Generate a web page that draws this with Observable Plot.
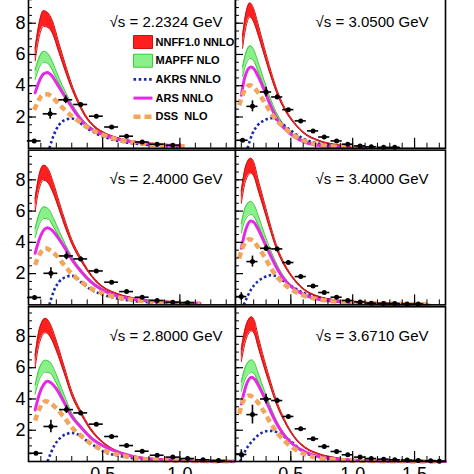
<!DOCTYPE html>
<html>
<head>
<meta charset="utf-8">
<script src="https://cdn.jsdelivr.net/npm/d3@7"></script>
<script src="https://cdn.jsdelivr.net/npm/@observablehq/plot@0.6"></script>
<style>
  body { margin: 0; background: #fff; }
  #wrap { position: relative; width: 474px; height: 474px; overflow: hidden; background: #fff; }
  #left { position: absolute; left: 0; top: -7px; }
  #right { position: absolute; left: 234px; top: -7px; }
  svg text { white-space: pre; }
</style>
</head>
<body>
<div id="wrap"><div id="left"></div><div id="right"></div></div>
<script>
// ---------------- data ----------------
const energies = ["2.2324", "2.4000", "2.8000", "3.0500", "3.4000", "3.6710"];
const legendLabels = ["NNFF1.0 NNLO", "MAPFF NLO", "AKRS NNLO", "ARS NNLO", "DSS  NLO"];
const yTickLabels = [2, 4, 6, 8];
const xTickLabelsLeft = [0.5, 1.0];
const xTickLabelsRight = [0.5, 1.0, 1.5];
const xHalfBin = 0.045;

// NNFF1.0 / MAPFF bands: [x, central, half-width]; lines: [x, y]; data: [x, y, yerr]
const nnff_2232 = [[0.063,6.0,0.40],[0.09,7.6,0.45],[0.117,8.3,0.50],[0.145,8.2,0.47],[0.175,7.75,0.40],[0.215,6.5,0.30],[0.26,5.1,0.22],[0.30,3.95,0.15],[0.345,2.9,0.10],[0.39,2.05,0.07],[0.45,1.35,0.05],[0.52,0.92,0.04],[0.60,0.64,0.03],[0.70,0.44,0.02],[0.80,0.32,0.02],[0.90,0.23,0.02],[1.02,0.16,0.02]];
const mapff_2232 = [[0.063,4.7,0.30],[0.09,5.5,0.33],[0.117,5.85,0.35],[0.145,5.75,0.32],[0.17,5.35,0.28],[0.20,4.7,0.22],[0.24,3.85,0.15],[0.28,3.1,0.10],[0.33,2.3,0.08],[0.38,1.68,0.05],[0.45,1.14,0.03],[0.52,0.82,0.02],[0.60,0.58,0.02],[0.70,0.41,0.02],[0.80,0.30,0.02],[0.90,0.22,0.02],[1.02,0.15,0.02]];
const akrs_2232 = [[0.155,0],[0.186,0.9],[0.218,1.5],[0.26,1.82],[0.30,1.9],[0.33,1.8],[0.37,1.5],[0.42,1.15],[0.50,0.75],[0.60,0.47],[0.75,0.25],[0.90,0.15],[1.02,0.10]];
const ars_2232 = [[0.063,3.55],[0.09,4.3],[0.117,4.75],[0.143,4.85],[0.17,4.65],[0.20,4.2],[0.24,3.55],[0.28,2.95],[0.33,2.2],[0.38,1.6],[0.45,1.1],[0.52,0.8],[0.60,0.57],[0.70,0.40],[0.80,0.29],[0.90,0.21],[1.02,0.15]];
const dss_2232 = [[0.057,2.45],[0.08,2.95],[0.10,3.3],[0.125,3.45],[0.145,3.45],[0.17,3.3],[0.20,3.0],[0.24,2.6],[0.30,2.05],[0.35,1.7],[0.40,1.35],[0.50,0.86],[0.60,0.55],[0.75,0.30],[0.90,0.19],[1.03,0.12]];
const data_2232 = [[0.057,0.47,0.08],[0.16,2.2,0.35],[0.261,3.1,0.25],[0.358,2.8,0.12],[0.459,2.05,0.08],[0.558,1.36,0.06],[0.655,0.77,0.05],[0.756,0.40,0.04],[0.853,0.26,0.04],[0.954,0.19,0.04]];

const nnff_2400 = [[0.063,6.4,0.40],[0.09,7.9,0.45],[0.12,8.45,0.48],[0.15,8.2,0.45],[0.18,7.5,0.35],[0.22,6.3,0.25],[0.26,5.1,0.20],[0.30,4.05,0.14],[0.36,2.9,0.10],[0.40,2.25,0.07],[0.45,1.6,0.05],[0.50,1.15,0.04],[0.60,0.68,0.03],[0.70,0.43,0.02],[0.80,0.30,0.02],[0.90,0.22,0.02],[1.00,0.17,0.02],[1.13,0.12,0.02]];
const mapff_2400 = [[0.063,4.6,0.30],[0.09,5.5,0.35],[0.12,5.9,0.37],[0.15,5.8,0.33],[0.18,5.3,0.28],[0.22,4.5,0.20],[0.26,3.7,0.15],[0.30,3.0,0.10],[0.36,2.2,0.07],[0.42,1.55,0.05],[0.49,1.05,0.03],[0.57,0.66,0.02],[0.70,0.37,0.02],[0.81,0.26,0.02],[0.90,0.20,0.02],[1.00,0.16,0.02],[1.13,0.12,0.02]];
const akrs_2400 = [[0.155,0],[0.187,0.96],[0.219,1.49],[0.261,1.78],[0.293,1.86],[0.326,1.78],[0.36,1.45],[0.42,1.0],[0.50,0.66],[0.60,0.4],[0.70,0.25],[0.80,0.17],[0.90,0.12],[1.00,0.08],[1.10,0.05]];
const ars_2400 = [[0.063,3.3],[0.09,4.2],[0.12,4.8],[0.143,4.94],[0.17,4.8],[0.20,4.45],[0.25,3.73],[0.30,2.9],[0.36,2.13],[0.42,1.5],[0.49,1.0],[0.57,0.64],[0.70,0.36],[0.81,0.25],[0.90,0.19],[1.00,0.15],[1.13,0.11]];
const dss_2400 = [[0.063,2.56],[0.09,3.2],[0.13,3.62],[0.16,3.5],[0.197,3.19],[0.25,2.56],[0.30,1.98],[0.358,1.5],[0.42,1.08],[0.51,0.7],[0.62,0.42],[0.75,0.26],[0.92,0.15],[1.13,0.07]];
const data_2400 = [[0.059,0.47,0.08],[0.165,2.02,0.35],[0.266,3.13,0.25],[0.358,2.94,0.12],[0.459,2.17,0.08],[0.558,1.45,0.06],[0.655,0.85,0.05],[0.756,0.49,0.04],[0.853,0.28,0.04],[0.954,0.17,0.04],[1.05,0.13,0.04]];

const nnff_2800 = [[0.063,6.4,0.40],[0.09,8.0,0.45],[0.13,8.7,0.46],[0.16,8.4,0.42],[0.197,7.5,0.33],[0.25,5.9,0.22],[0.30,4.35,0.15],[0.358,3.15,0.10],[0.42,2.1,0.07],[0.51,1.15,0.04],[0.62,0.55,0.03],[0.75,0.25,0.02],[0.92,0.12,0.02],[1.13,0.05,0.01],[1.35,0.02,0.01]];
const mapff_2800 = [[0.063,4.6,0.30],[0.09,5.6,0.36],[0.13,6.1,0.38],[0.16,6.0,0.35],[0.197,5.35,0.28],[0.25,4.1,0.18],[0.30,3.0,0.10],[0.358,2.25,0.07],[0.42,1.58,0.05],[0.51,0.98,0.03],[0.62,0.55,0.02],[0.75,0.24,0.02],[0.92,0.11,0.01],[1.13,0.05,0.01],[1.35,0.02,0.01]];
const akrs_2800 = [[0.143,0],[0.187,1.02],[0.23,1.55],[0.272,1.78],[0.30,1.83],[0.347,1.7],[0.40,1.3],[0.45,0.98],[0.51,0.62],[0.62,0.33],[0.75,0.15],[0.92,0.06],[1.13,0.02],[1.35,0.0]];
const ars_2800 = [[0.063,3.3],[0.09,4.3],[0.12,4.95],[0.143,5.13],[0.17,5.0],[0.197,4.7],[0.25,3.79],[0.30,2.88],[0.358,2.2],[0.42,1.55],[0.51,0.96],[0.62,0.53],[0.75,0.23],[0.92,0.11],[1.13,0.05],[1.35,0.02]];
const dss_2800 = [[0.063,2.62],[0.09,3.35],[0.13,3.86],[0.16,3.75],[0.197,3.43],[0.25,2.83],[0.30,2.19],[0.358,1.66],[0.42,1.17],[0.51,0.70],[0.62,0.38],[0.75,0.17],[0.92,0.07],[1.13,0.03],[1.35,0.01]];
const data_2800 = [[0.068,0.53,0.08],[0.165,2.24,0.40],[0.266,3.32,0.25],[0.358,3.11,0.12],[0.459,2.39,0.08],[0.558,1.6,0.05],[0.655,1.02,0.05],[0.756,0.66,0.04],[0.853,0.40,0.03],[0.954,0.28,0.03],[1.05,0.19,0.03],[1.15,0.11,0.03],[1.25,0.06,0.03]];

const nnff_3050 = [[0.11,6.8,0.40],[0.14,8.3,0.45],[0.17,8.85,0.45],[0.20,8.5,0.42],[0.232,7.7,0.35],[0.286,6.2,0.25],[0.34,4.75,0.18],[0.394,3.5,0.12],[0.449,2.55,0.08],[0.53,1.6,0.05],[0.61,0.95,0.04],[0.72,0.5,0.03],[0.88,0.2,0.02],[1.10,0.05,0.01]];
const mapff_3050 = [[0.11,4.9,0.30],[0.14,5.8,0.38],[0.17,6.15,0.40],[0.20,5.95,0.36],[0.232,5.3,0.30],[0.286,4.1,0.20],[0.34,2.95,0.12],[0.394,2.05,0.08],[0.449,1.4,0.05],[0.53,0.8,0.03],[0.61,0.45,0.02],[0.72,0.22,0.02],[0.88,0.10,0.01],[1.10,0.02,0.01]];
const akrs_3050 = [[0.15,0],[0.19,0.94],[0.232,1.47],[0.286,1.79],[0.34,1.93],[0.394,1.8],[0.449,1.45],[0.49,1.2],[0.55,0.85],[0.61,0.58],[0.72,0.3],[0.88,0.12],[1.10,0.03]];
const ars_3050 = [[0.10,3.39],[0.13,4.6],[0.177,5.2],[0.20,5.1],[0.232,4.66],[0.286,3.7],[0.34,2.64],[0.394,1.79],[0.449,1.26],[0.53,0.72],[0.61,0.40],[0.72,0.19],[0.88,0.09],[1.10,0.02]];
const dss_3050 = [[0.083,2.75],[0.12,3.6],[0.167,4.03],[0.20,3.9],[0.232,3.6],[0.286,2.96],[0.34,2.25],[0.394,1.72],[0.449,1.3],[0.53,0.8],[0.61,0.47],[0.72,0.22],[0.88,0.09],[1.05,0.02]];
const data_3050 = [[0.11,0.51,0.08],[0.19,2.68,0.35],[0.30,3.6,0.30],[0.39,3.28,0.15],[0.48,2.47,0.08],[0.58,1.75,0.06],[0.68,1.11,0.05],[0.77,0.72,0.04],[0.87,0.47,0.04],[0.96,0.26,0.03],[1.06,0.15,0.03],[1.15,0.09,0.03],[1.25,0.06,0.03],[1.34,0.06,0.03]];

const nnff_3400 = [[0.10,6.9,0.40],[0.135,8.4,0.46],[0.177,8.9,0.48],[0.205,8.6,0.44],[0.232,7.8,0.36],[0.286,6.3,0.26],[0.34,4.8,0.18],[0.394,3.5,0.12],[0.449,2.56,0.08],[0.53,1.6,0.05],[0.61,0.96,0.04],[0.72,0.53,0.03],[0.88,0.28,0.02],[1.10,0.15,0.02],[1.42,0.06,0.01],[1.63,0.02,0.01]];
const mapff_3400 = [[0.10,4.9,0.30],[0.135,5.9,0.40],[0.177,6.2,0.42],[0.205,6.0,0.38],[0.232,5.5,0.32],[0.286,4.35,0.22],[0.34,3.3,0.14],[0.394,2.4,0.09],[0.449,1.7,0.06],[0.53,1.05,0.04],[0.61,0.67,0.03],[0.72,0.38,0.02],[0.88,0.22,0.02],[1.10,0.12,0.01],[1.42,0.05,0.01],[1.63,0.02,0.01]];
const akrs_3400 = [[0.12,0],[0.177,0.96],[0.232,1.49],[0.286,1.77],[0.34,1.9],[0.394,1.8],[0.449,1.5],[0.503,1.2],[0.60,0.78],[0.70,0.5],[0.80,0.32],[0.90,0.21],[1.00,0.14],[1.20,0.07],[1.40,0.03],[1.60,0.01]];
const ars_3400 = [[0.10,3.62],[0.135,4.8],[0.177,5.37],[0.205,5.25],[0.232,4.9],[0.286,4.0],[0.34,3.09],[0.394,2.24],[0.449,1.6],[0.53,1.0],[0.61,0.64],[0.72,0.36],[0.88,0.21],[1.10,0.11],[1.42,0.04],[1.60,0.02]];
const dss_3400 = [[0.083,2.98],[0.12,3.85],[0.167,4.2],[0.20,4.05],[0.232,3.73],[0.286,3.09],[0.34,2.34],[0.394,1.75],[0.449,1.32],[0.53,0.87],[0.61,0.58],[0.72,0.36],[0.88,0.21],[1.10,0.13],[1.42,0.06],[1.61,0.04]];
const data_3400 = [[0.10,0.53,0.25],[0.19,2.77,0.35],[0.30,3.62,0.20],[0.39,3.58,0.12],[0.48,2.71,0.08],[0.58,1.81,0.06],[0.68,1.21,0.05],[0.77,0.79,0.04],[0.87,0.49,0.04],[0.96,0.28,0.03],[1.06,0.19,0.03],[1.15,0.11,0.03],[1.25,0.09,0.03],[1.34,0.09,0.03],[1.44,0.06,0.03],[1.53,0.06,0.10]];

const nnff_3671 = [[0.10,6.8,0.40],[0.14,8.3,0.45],[0.183,8.8,0.45],[0.21,8.5,0.42],[0.232,7.8,0.36],[0.286,6.25,0.26],[0.34,4.85,0.18],[0.394,3.58,0.12],[0.449,2.62,0.08],[0.53,1.55,0.05],[0.61,0.92,0.04],[0.72,0.49,0.03],[0.88,0.21,0.02],[1.10,0.07,0.01],[1.42,0.02,0.01],[1.75,0.0,0.0]];
const mapff_3671 = [[0.10,4.8,0.30],[0.14,5.8,0.38],[0.183,6.1,0.40],[0.21,5.9,0.36],[0.232,5.45,0.30],[0.286,4.35,0.20],[0.34,3.3,0.13],[0.394,2.4,0.08],[0.449,1.72,0.05],[0.53,1.05,0.03],[0.61,0.65,0.02],[0.72,0.33,0.02],[0.88,0.15,0.01],[1.10,0.06,0.01],[1.42,0.02,0.01],[1.75,0.0,0.0]];
const akrs_3671 = [[0.09,0],[0.15,0.92],[0.205,1.45],[0.26,1.81],[0.33,1.96],[0.394,1.85],[0.449,1.58],[0.50,1.3],[0.60,0.62],[0.70,0.35],[0.80,0.2],[0.90,0.12],[1.00,0.07],[1.20,0.03],[1.40,0.01],[1.60,0]];
const ars_3671 = [[0.10,3.68],[0.14,4.9],[0.183,5.39],[0.21,5.25],[0.232,4.96],[0.286,4.11],[0.34,3.15],[0.394,2.3],[0.449,1.66],[0.53,1.02],[0.61,0.64],[0.72,0.32],[0.88,0.15],[1.10,0.06],[1.42,0.02],[1.75,0]];
const dss_3671 = [[0.083,3.05],[0.12,3.95],[0.167,4.22],[0.20,4.05],[0.232,3.79],[0.286,3.15],[0.34,2.41],[0.394,1.8],[0.449,1.32],[0.53,0.8],[0.61,0.47],[0.72,0.23],[0.88,0.11],[1.10,0.04],[1.42,0.01],[1.71,0]];
const data_3671 = [[0.10,0.45,0.30],[0.19,3.0,0.60],[0.30,4.0,0.30],[0.39,3.9,0.15],[0.48,2.88,0.10],[0.58,2.09,0.07],[0.68,1.45,0.06],[0.77,0.96,0.05],[0.87,0.64,0.04],[0.96,0.43,0.04],[1.06,0.28,0.03],[1.15,0.19,0.03],[1.25,0.15,0.03],[1.34,0.11,0.03],[1.44,0.09,0.03],[1.53,0.06,0.10],[1.63,0.04,0.03],[1.70,0.02,0.03]];

// ---------------- assembly ----------------
const leftPanels = [
  {row: 0, e: energies[0], nnff: nnff_2232, mapff: mapff_2232, akrs: akrs_2232, ars: ars_2232, dss: dss_2232, data: data_2232},
  {row: 1, e: energies[1], nnff: nnff_2400, mapff: mapff_2400, akrs: akrs_2400, ars: ars_2400, dss: dss_2400, data: data_2400},
  {row: 2, e: energies[2], nnff: nnff_2800, mapff: mapff_2800, akrs: akrs_2800, ars: ars_2800, dss: dss_2800, data: data_2800}
];
const rightPanels = [
  {row: 0, e: energies[3], nnff: nnff_3050, mapff: mapff_3050, akrs: akrs_3050, ars: ars_3050, dss: dss_3050, data: data_3050},
  {row: 1, e: energies[4], nnff: nnff_3400, mapff: mapff_3400, akrs: akrs_3400, ars: ars_3400, dss: dss_3400, data: data_3400},
  {row: 2, e: energies[5], nnff: nnff_3671, mapff: mapff_3671, akrs: akrs_3671, ars: ars_3671, dss: dss_3671, data: data_3671}
];

const C = {
  red: "#ff1f1f", redEdge: "#c81414",
  green: "#8af08a", greenEdge: "#3cc83c",
  blue: "#1c2aa8", magenta: "#e52ae5", orange: "#f2a55c"
};

const bandRows = (ps, k) => ps.flatMap(p => p[k].map(([x, c, w]) => ({row: p.row, x, lo: c - w, hi: c + w})));
const lineRows = (ps, k) => ps.flatMap(p => p[k].map(([x, y]) => ({row: p.row, x, y})));
const pointRows = ps => ps.flatMap(p => p.data.map(([x, y, ey]) => ({row: p.row, x, y, ey})));

const rectSym = {draw(ctx) { ctx.moveTo(-9.5, -6.5); ctx.lineTo(9.5, -6.5); ctx.lineTo(9.5, 6.5); ctx.lineTo(-9.5, 6.5); ctx.closePath(); }};
const lineSym = {draw(ctx) { ctx.moveTo(-9.5, 0); ctx.lineTo(9.5, 0); }};

function column(ps, cfg) {
  const FH = 468, pad = 0.012;
  const bw = FH / (3 - pad) * (1 - pad);
  const frameW = cfg.width - cfg.marginLeft - cfg.marginRight;
  const red = bandRows(ps, "nnff"), green = bandRows(ps, "mapff");
  const pts = pointRows(ps);
  const curve = "monotone-x";
  const xMinor = d3.range(1, cfg.xMax * 10 + 0.5).map(i => i / 10);
  const yMinor = d3.range(1, 20).map(i => i / 2);
  const marks = [
    Plot.areaY(red, {x: "x", y1: "lo", y2: "hi", fy: "row", fill: C.red, curve}),
    Plot.line(red, {x: "x", y: "hi", fy: "row", stroke: C.redEdge, strokeWidth: 1, curve}),
    Plot.line(red, {x: "x", y: "lo", fy: "row", stroke: C.redEdge, strokeWidth: 1, curve}),
    Plot.areaY(green, {x: "x", y1: "lo", y2: "hi", fy: "row", fill: C.green, curve}),
    Plot.line(green, {x: "x", y: "hi", fy: "row", stroke: C.greenEdge, strokeWidth: 1, curve}),
    Plot.line(green, {x: "x", y: "lo", fy: "row", stroke: C.greenEdge, strokeWidth: 1, curve}),
    Plot.line(lineRows(ps, "akrs"), {x: "x", y: "y", fy: "row", stroke: C.blue, strokeWidth: 2.6, strokeDasharray: "2.5,2.5", strokeLinecap: "butt", curve}),
    Plot.line(lineRows(ps, "ars"), {x: "x", y: "y", fy: "row", stroke: C.magenta, strokeWidth: 3, curve}),
    Plot.line(lineRows(ps, "dss"), {x: "x", y: "y", fy: "row", stroke: C.orange, strokeWidth: 4.5, strokeDasharray: "6,4", strokeLinecap: "butt", curve}),
    Plot.ruleY(pts, {y: "y", x1: d => d.x - xHalfBin, x2: d => d.x + xHalfBin, fy: "row", stroke: "black", strokeWidth: 1.6}),
    Plot.ruleX(pts, {x: "x", y1: d => Math.max(0, d.y - d.ey), y2: d => d.y + d.ey, fy: "row", stroke: "black", strokeWidth: 1.6}),
    Plot.dot(pts, {x: "x", y: "y", fy: "row", r: 2.5, fill: "black"}),
    // inward ticks
    Plot.ruleX(xMinor, {insetTop: bw - 5, stroke: "black", strokeWidth: 1}),
    Plot.ruleX(cfg.xLabels, {insetTop: bw - 10, stroke: "black", strokeWidth: 1.2}),
    Plot.ruleY(yMinor, {insetRight: frameW - 4, stroke: "black", strokeWidth: 1}),
    Plot.ruleY(yTickLabels, {insetRight: frameW - 8, stroke: "black", strokeWidth: 1.2}),
    Plot.frame({stroke: "black", strokeWidth: 1.6}),
    Plot.axisX({ticks: cfg.xLabels, tickSize: 0, tickPadding: 6, fontSize: 18, tickFormat: d => d.toFixed(1), label: null}),
    Plot.text(ps, {fy: "row", frameAnchor: "top-right", dx: cfg.labelDx, dy: 29, text: d => "\u221As = " + d.e + " GeV", textAnchor: "end", lineAnchor: "middle", fontSize: 15})
  ];
  if (cfg.yLabels) {
    marks.push(Plot.axisY({ticks: yTickLabels, tickSize: 0, tickPadding: 3, fontSize: 18, label: null}));
  } else {
    marks.push(Plot.axisY({ticks: [], tickSize: 0, label: null}));
  }
  if (cfg.legend) {
    const top = [{row: 0}];
    const rowY = i => 48.5 + i * 18.7;
    const sw = [
      {symbol: rectSym, fill: C.red, stroke: C.redEdge, strokeWidth: 1},
      {symbol: rectSym, fill: C.green, stroke: C.greenEdge, strokeWidth: 1},
      {symbol: lineSym, fill: "none", stroke: C.blue, strokeWidth: 2.8, strokeDasharray: "2.6,2.6", strokeLinecap: "butt"},
      {symbol: lineSym, fill: "none", stroke: C.magenta, strokeWidth: 3},
      {symbol: lineSym, fill: "none", stroke: C.orange, strokeWidth: 4.5, strokeDasharray: "7,4", strokeLinecap: "butt"}
    ];
    legendLabels.forEach((lab, i) => {
      marks.push(Plot.dot(top, {fy: "row", frameAnchor: "top-left", dx: 114.5, dy: rowY(i), r: 5, ...sw[i]}));
      marks.push(Plot.text(top, {fy: "row", frameAnchor: "top-left", dx: 127, dy: rowY(i), text: () => lab, textAnchor: "start", lineAnchor: "middle", fontSize: 11, fontWeight: "bold"}));
    });
  }
  return Plot.plot({
    width: cfg.width,
    height: FH + 30,
    marginTop: 0,
    marginBottom: 30,
    marginLeft: cfg.marginLeft,
    marginRight: cfg.marginRight,
    x: {domain: cfg.xDomain},
    y: {domain: [0, 9.9]},
    fy: {domain: [0, 1, 2], paddingInner: pad, paddingOuter: 0, round: false, axis: null},
    style: {fontFamily: "'Liberation Sans', Arial, Helvetica, sans-serif", background: "transparent", color: "black"},
    marks
  });
}

document.getElementById("left").appendChild(column(leftPanels, {
  width: 236, marginLeft: 28, marginRight: 1, xDomain: [0.02, 1.36], xMax: 1.3,
  xLabels: xTickLabelsLeft, yLabels: true, legend: true, labelDx: -13
}));
document.getElementById("right").appendChild(column(rightPanels, {
  width: 240, marginLeft: 1, marginRight: 29, xDomain: [0.053, 1.75], xMax: 1.7,
  xLabels: xTickLabelsRight, yLabels: false, legend: false, labelDx: -17
}));
</script>
</body>
</html>
